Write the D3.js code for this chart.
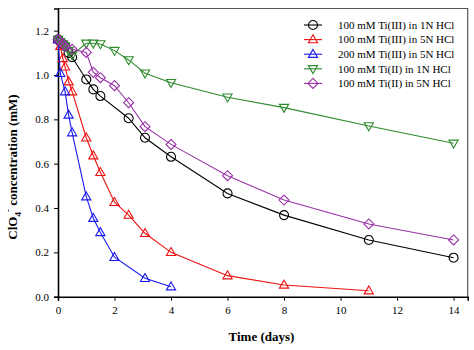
<!DOCTYPE html>
<html>
<head>
<meta charset="utf-8">
<script src="https://d3js.org/d3.v7.min.js"></script>
<style>
  body { margin: 0; background: #fff; }
  svg { display: block; font-family: "Liberation Serif", "Times New Roman", serif; }
  .tick text { font-family: "Liberation Serif", "Times New Roman", serif; }
</style>
</head>
<body>
<svg id="chart" width="474" height="350"></svg>
<script>
// series data (days, mM)
const tBlack  = [0, 0.08, 0.17, 0.25, 0.375, 0.5, 1, 1.25, 1.5, 2.5, 3.08, 4, 6, 8, 11, 14];
const cBlack  = [1.16, 1.15, 1.14, 1.13, 1.10, 1.08, 0.98, 0.935, 0.905, 0.805, 0.717, 0.631, 0.466, 0.368, 0.256, 0.176];

const tRed    = [0, 0.08, 0.17, 0.25, 0.375, 0.5, 1, 1.25, 1.5, 2, 2.5, 3.08, 4, 6, 8, 11];
const cRed    = [1.16, 1.13, 1.075, 1.037, 0.97, 0.925, 0.717, 0.636, 0.561, 0.426, 0.368, 0.286, 0.2, 0.095, 0.053, 0.027];

const tBlue   = [0, 0.08, 0.25, 0.375, 0.5, 1, 1.25, 1.5, 2, 3.08, 4];
const cBlue   = [1.16, 1.008, 0.925, 0.82, 0.74, 0.451, 0.354, 0.29, 0.178, 0.083, 0.045];

const tGreen  = [0, 0.08, 0.17, 0.25, 0.375, 0.5, 1, 1.25, 1.5, 2, 2.5, 3.08, 4, 6, 8, 11, 14];
const cGreen  = [1.16, 1.15, 1.14, 1.13, 1.11, 1.09, 1.143, 1.143, 1.14, 1.11, 1.068, 1.008, 0.965, 0.9, 0.853, 0.77, 0.692];

const tPurple = [0, 0.08, 0.17, 0.25, 0.5, 1, 1.25, 1.5, 2, 2.5, 3.08, 4, 6, 8, 11, 14];
const cPurple = [1.16, 1.15, 1.14, 1.13, 1.116, 1.102, 1.012, 0.988, 0.952, 0.875, 0.767, 0.687, 0.546, 0.436, 0.328, 0.256];

const xTicks = [0, 2, 4, 6, 8, 10, 12, 14];
const yTicks = [0, 0.2, 0.4, 0.6, 0.8, 1.0, 1.2];

const series = [
  { name: "100 mM Ti(III) in 1N HCl", t: tBlack,  c: cBlack,  color: "#000000", sym: "circle" },
  { name: "100 mM Ti(III) in 5N HCl", t: tRed,    c: cRed,    color: "#ee1111", sym: "up" },
  { name: "200 mM Ti(III) in 5N HCl", t: tBlue,   c: cBlue,   color: "#1a1aee", sym: "up" },
  { name: "100 mM Ti(II) in 1N HCl",  t: tGreen,  c: cGreen,  color: "#2e8b2e", sym: "down" },
  { name: "100 mM Ti(II) in 5N HCl",  t: tPurple, c: cPurple, color: "#9932a8", sym: "diamond" }
];

const margin = { top: 8.5, right: 6.3, bottom: 53.3, left: 58 };
const W = 474, H = 350;
const w = W - margin.left - margin.right;
const h = H - margin.top - margin.bottom;

const svg = d3.select("#chart");
const g = svg.append("g").attr("transform", `translate(${margin.left},${margin.top})`);

const x = d3.scaleLinear().domain([0, 14.5]).range([0, w]);
const y = d3.scaleLinear().domain([0, 1.3]).range([h, 0]);

// frame (top and right)
g.append("path")
  .attr("d", `M0,0H${w}V${h}`)
  .attr("fill", "none").attr("stroke", "#555").attr("stroke-width", 1.2);

// axes
const xAxis = g.append("g").attr("transform", `translate(0,${h})`)
  .call(d3.axisBottom(x).tickValues(xTicks).tickSize(4).tickPadding(6).tickFormat(d3.format("d")));
const yAxis = g.append("g")
  .call(d3.axisLeft(y).tickValues(yTicks).tickSize(4).tickPadding(5).tickFormat(d3.format(".1f")));

[xAxis, yAxis].forEach(a => {
  a.attr("font-family", "Liberation Serif, serif").attr("font-size", 11);
  a.select(".domain").attr("stroke", "#000").attr("stroke-width", 1.6);
  a.selectAll(".tick line").attr("stroke", "#000").attr("stroke-width", 1);
  a.selectAll(".tick text").attr("fill", "#000");
});

function marker(sel, sym) {
  if (sym === "circle") {
    sel.append("circle").attr("r", 4.5);
  } else if (sym === "up") {
    sel.append("path").attr("d", "M0,-4.8L4.6,3.2L-4.6,3.2Z");
  } else if (sym === "down") {
    sel.append("path").attr("d", "M0,4.8L4.6,-3.2L-4.6,-3.2Z");
  } else {
    sel.append("path").attr("d", "M0,-5L5,0L0,5L-5,0Z");
  }
}

const line = d3.line().x(d => x(d[0])).y(d => y(d[1]));

series.forEach(s => {
  const pts = s.t.map((t, i) => [t, s.c[i]]);
  const sg = g.append("g");
  sg.append("path").datum(pts).attr("d", line)
    .attr("fill", "none").attr("stroke", s.color).attr("stroke-width", 1.1);
  sg.selectAll("g.pt").data(pts).join("g")
    .attr("class", "pt")
    .attr("transform", d => `translate(${x(d[0])},${y(d[1])})`)
    .each(function () { marker(d3.select(this), s.sym); })
    .selectAll("circle,path")
    .attr("fill", "none").attr("stroke", s.color).attr("stroke-width", 1.1);
});

// legend
const leg = svg.append("g").attr("transform", "translate(304,25)");
series.forEach((s, i) => {
  const r = leg.append("g").attr("transform", `translate(0,${i * 14.6})`);
  r.append("line").attr("x1", 0).attr("x2", 18).attr("stroke", s.color).attr("stroke-width", 1.1);
  const m = r.append("g").attr("transform", "translate(9,0)");
  marker(m, s.sym);
  m.selectAll("circle,path").attr("fill", "none").attr("stroke", s.color).attr("stroke-width", 1.1);
  r.append("text").attr("x", 34).attr("dy", "0.35em")
    .attr("font-size", 11).text(s.name);
});

// axis titles
svg.append("text")
  .attr("x", margin.left + x(7.2)).attr("y", 341)
  .attr("text-anchor", "middle").attr("font-weight", "bold").attr("font-size", 13)
  .text("Time (days)");

const yt = svg.append("text")
  .attr("transform", "translate(17,167) rotate(-90)")
  .attr("text-anchor", "middle").attr("font-weight", "bold").attr("font-size", 13);
yt.append("tspan").text("ClO");
yt.append("tspan").attr("font-size", 9).attr("dy", 4).text("4");
yt.append("tspan").attr("font-size", 9).attr("dy", -10).text("-");
yt.append("tspan").attr("dy", 6).text(" concentration (mM)");
</script>
</body>
</html>
